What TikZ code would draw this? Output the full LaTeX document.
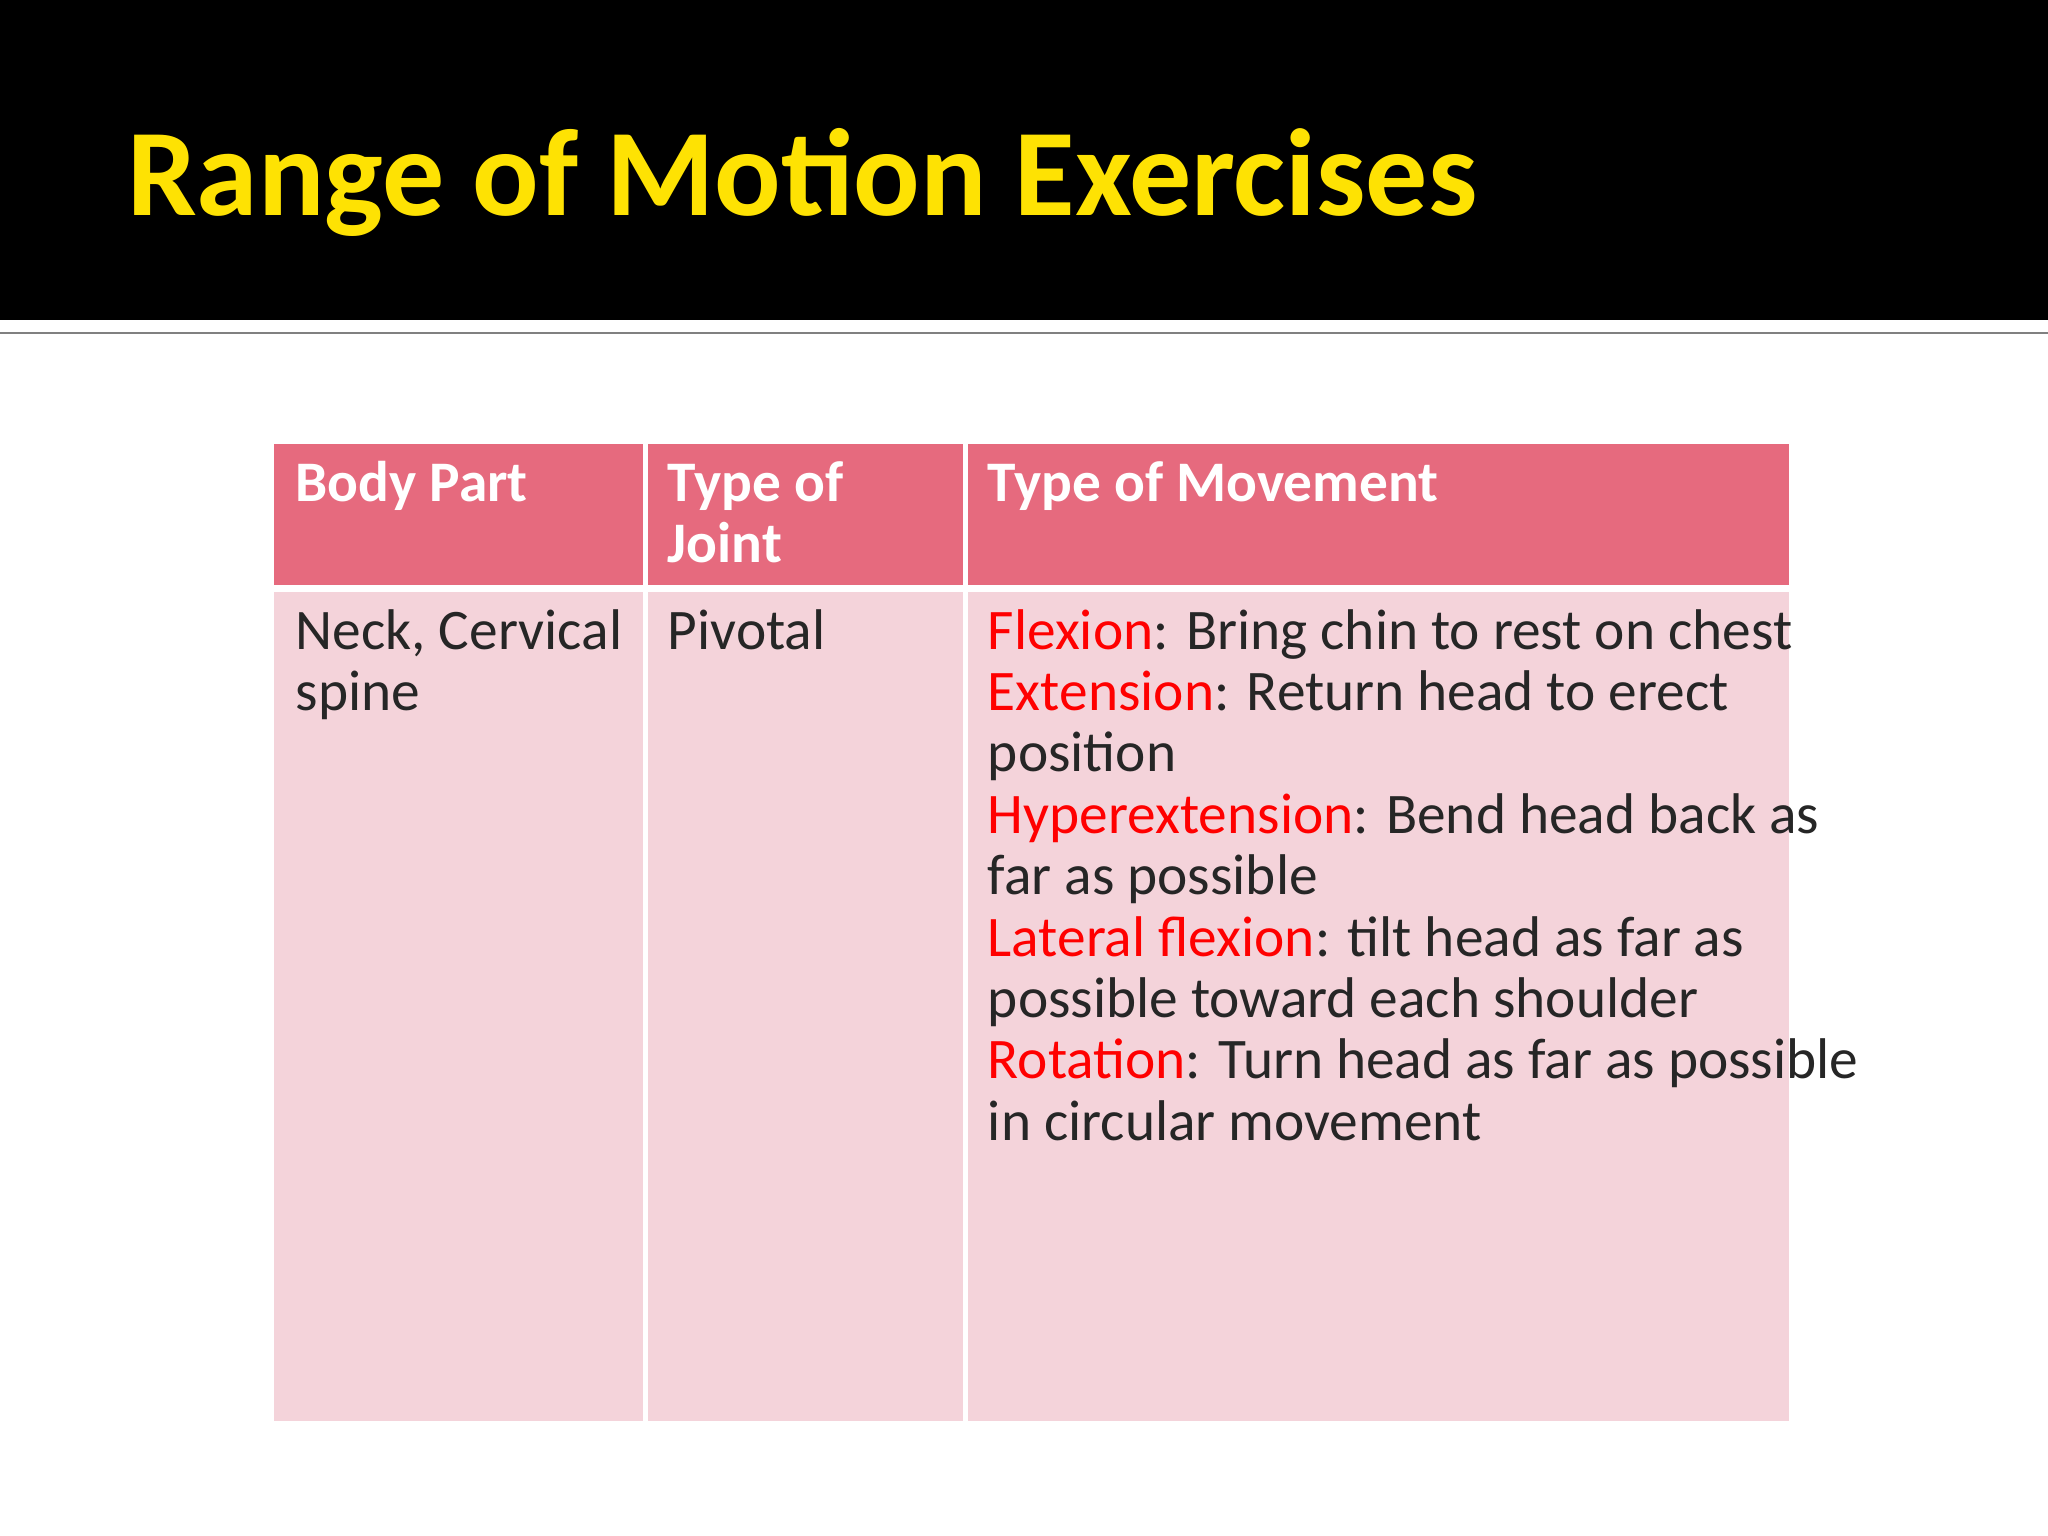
\documentclass[tikz,border=0pt]{standalone}
\usepackage{fontspec}
\setmainfont{Carlito}
\begin{document}
\begin{tikzpicture}[x=0.02cm,y=-0.02cm,
  ln/.style={anchor=base west,inner sep=0pt,font=\fontsize{25pt}{30pt}\selectfont,text=black!85},
  hd/.style={anchor=base west,inner sep=0pt,font=\fontsize{25pt}{30pt}\selectfont\bfseries,text=white},
  kw/.style={text=red}]
\useasboundingbox (0,0) rectangle (1568,1176);
\fill[white] (0,0) rectangle (1568,1176);
\fill[black] (0,0) rectangle (1568,245);
\draw[gray,line width=1.2pt] (0,255) -- (1568,255);
\node[anchor=base west,inner sep=0pt,text=yellow!85!orange,font=\fontsize{54pt}{60pt}\selectfont\bfseries] (title) at (97,165) {Range of Motion Exercises};
% table
\fill[fill={rgb,255:red,230;green,106;blue,126}] (210,340) rectangle (1370,448);
\fill[fill={rgb,255:red,244;green,211;blue,218}] (210,453) rectangle (1370,1088);
\draw[white,line width=2pt] (494,340) -- (494,1088);
\draw[white,line width=2pt] (739,340) -- (739,1088);
\node[hd] (h1) at (226,384) {Body Part};
\node[hd] (h2) at (511,384) {Type of};
\node[hd] (h2b) at (511,431) {Joint};
\node[hd] (h3) at (756,384) {Type of Movement};
\node[ln] (c1) at (226,497) {Neck, Cervical};
\node[ln] (c1b) at (226,544) {spine};
\node[ln] (c2) at (511,497) {Pivotal};
\node[ln] (m1) at (756,497) {\textcolor{red}{Flexion}: Bring chin to rest on chest};
\node[ln] (m2) at (756,544) {\textcolor{red}{Extension}: Return head to erect};
\node[ln] (m3) at (756,591) {position};
\node[ln] (m4) at (756,638) {\textcolor{red}{Hyperextension}: Bend head back as};
\node[ln] (m5) at (756,685) {far as possible};
\node[ln] (m6) at (756,732) {\textcolor{red}{Lateral flexion}: tilt head as far as};
\node[ln] (m7) at (756,779) {possible toward each shoulder};
\node[ln] (m8) at (756,826) {\textcolor{red}{Rotation}: Turn head as far as possible};
\node[ln] (m9) at (756,873) {in circular movement};
\end{tikzpicture}
\end{document}
